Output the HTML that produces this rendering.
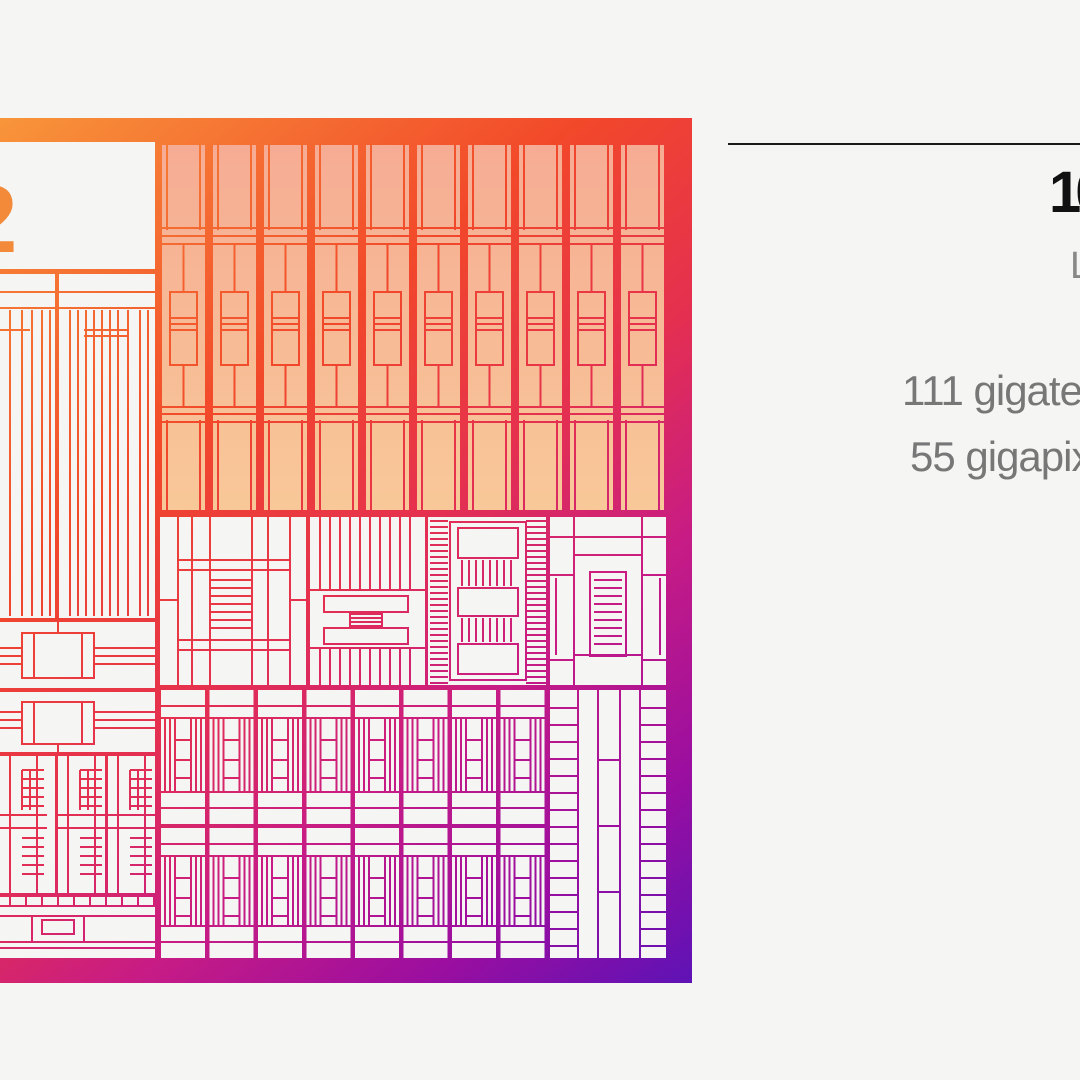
<!DOCTYPE html>
<html><head><meta charset="utf-8">
<style>
html,body{margin:0;padding:0;background:#f5f5f4;width:1080px;height:1080px;overflow:hidden}
svg{position:absolute;left:0;top:0}
.t{font-family:"Liberation Sans",sans-serif}
</style></head>
<body>
<svg id="s" width="1080" height="1080" viewBox="0 0 1080 1080">
<defs>
<linearGradient id="g" gradientUnits="userSpaceOnUse" x1="0" y1="118" x2="692" y2="983">
<stop offset="0" stop-color="#f8953a"/>
<stop offset="0.33" stop-color="#f2482a"/>
<stop offset="0.52" stop-color="#e5304f"/>
<stop offset="0.68" stop-color="#c81c84"/>
<stop offset="0.85" stop-color="#9a0ea0"/>
<stop offset="1" stop-color="#5e12b6"/>
</linearGradient>
<linearGradient id="o" x1="0" y1="0" x2="0" y2="1">
<stop offset="0" stop-color="#f6ac94"/>
<stop offset="1" stop-color="#f8c898"/>
</linearGradient>
</defs>
<rect x="0" y="118" width="692" height="865" fill="url(#g)"/>
<g id="cells"></g>
<g id="lines" stroke="url(#g)" stroke-width="2" fill="none"></g>
<line x1="728" y1="144" x2="1080" y2="144" stroke="#1a1a1a" stroke-width="2"/>
<text class="t" x="1049" y="212" font-size="58" font-weight="bold" fill="#111" letter-spacing="-6">10</text>
<text class="t" x="1070" y="278" font-size="38" fill="#888">L</text>
<text class="t" x="902" y="405" font-size="42" fill="#777" letter-spacing="-1">111 gigateraflops</text>
<text class="t" x="910" y="471" font-size="42" fill="#777" letter-spacing="-1">55 gigapixels</text>
<text class="t" x="-36" y="252" font-size="96" font-weight="bold" fill="#f28a3a">2</text>
</svg>
<script>
const C=document.getElementById('cells'),L=document.getElementById('lines'),NS='http://www.w3.org/2000/svg';
function R(x,y,w,h,f){const e=document.createElementNS(NS,'rect');e.setAttribute('x',x);e.setAttribute('y',y);e.setAttribute('width',w);e.setAttribute('height',h);e.setAttribute('fill',f||'#f5f5f4');C.appendChild(e);}
function H(x1,x2,y){const e=document.createElementNS(NS,'line');e.setAttribute('x1',x1);e.setAttribute('x2',x2);e.setAttribute('y1',y);e.setAttribute('y2',y);L.appendChild(e);}
function V(x,y1,y2){const e=document.createElementNS(NS,'line');e.setAttribute('x1',x);e.setAttribute('x2',x);e.setAttribute('y1',y1);e.setAttribute('y2',y2);L.appendChild(e);}
function B(x,y,w,h){const e=document.createElementNS(NS,'rect');e.setAttribute('x',x);e.setAttribute('y',y);e.setAttribute('width',w);e.setAttribute('height',h);L.appendChild(e);}
R(0,142,155,127);
for(let i=0;i<10;i++){const x=162+i*51,w=43;R(x,145,w,365,'url(#o)');
 V(x+5,145,230);V(x+w-5,145,230);V(x+5,420,510);V(x+w-5,420,510);
 H(x,x+w,228);H(x,x+w,236);H(x,x+w,244);H(x,x+w,407);H(x,x+w,414);H(x,x+w,422);
 V(x+w/2,244,292);V(x+w/2,365,407);B(x+8,292,w-16,73);H(x+8,x+w-8,318);H(x+8,x+w-8,324);H(x+8,x+w-8,330);}
R(0,274,55,344);R(59,274,96,344);
H(0,55,292);H(59,155,292);H(0,55,308);H(59,155,308);
for(const x of[10,22,32,42,50]){V(x,310,616);}for(const x of[70,78,86,94,102,110,118,128,140,148]){V(x,310,616);}
H(0,30,330);H(84,128,330);H(84,128,336);
R(0,622,155,66);B(22,633,72,45);H(0,22,648);H(0,22,656);H(0,22,664);H(94,155,648);H(94,155,656);H(94,155,664);V(34,633,678);V(82,633,678);V(58,622,633);
R(0,692,155,60);B(22,702,72,42);H(0,22,712);H(0,22,720);H(0,22,728);H(94,155,712);H(94,155,720);H(94,155,728);V(34,702,744);V(82,702,744);V(58,744,752);
for(const x of[0,58,108]){R(x,756,x==0?55:47,137);}
for(const x0 of[0,58,108]){V(x0+10,756,893);V(x0+37,756,893);V(x0+22,770,810);V(x0+30,770,810);for(let y=770;y<=815;y+=9)H(x0+22,x0+44,y);for(let y=838;y<=880;y+=9)H(x0+22,x0+44,y);H(x0,x0+47,815);H(x0,x0+47,828);}
R(0,897,155,61);for(let x=10;x<155;x+=16)V(x,897,906);H(0,155,906);H(0,155,916);H(0,155,942);H(0,155,948);B(42,920,32,14);V(32,916,942);V(84,916,942);
R(160,517,146,168);R(310,517,115,168);R(428,517,118,168);R(550,517,116,168);
V(178,517,685);V(192,517,685);V(210,517,685);V(252,517,685);V(268,517,685);V(290,517,685);H(178,290,560);H(178,290,570);H(178,290,640);H(178,290,650);H(160,178,600);H(290,306,600);for(let y=580;y<=632;y+=8)H(210,252,y);
for(let x=320;x<420;x+=10){V(x,517,590);V(x,648,685);}R(312,590,112,58);H(310,425,590);H(310,425,648);B(324,596,84,16);B(324,628,84,16);V(350,612,628);V(382,612,628);for(let y=614;y<=626;y+=4)H(350,382,y);
for(let y=521;y<684;y+=6){H(430,448,y);H(526,546,y);}B(450,522,76,158);B(458,528,60,30);B(458,588,60,28);B(458,644,60,30);for(let x=462;x<516;x+=7){V(x,560,586);V(x,618,642);}
V(574,517,685);V(642,517,685);H(550,668,537);H(574,642,555);H(550,574,575);H(642,668,575);H(574,642,655);H(550,574,660);H(642,668,660);B(590,572,36,84);for(let y=580;y<650;y+=8)H(594,622,y);V(556,578,655);V(660,578,655);
for(let i=0;i<8;i++){const x=161+i*48.5,w=44;for(const[y0,y1] of[[690,824],[828,958]]){R(x,y0,w,y1-y0);
 H(x,x+w,y0+16);H(x,x+w,y0+28);H(x,x+w,y1-32);H(x,x+w,y1-16);
 V(x+4,y0+28,y1-32);V(x+9,y0+28,y1-32);V(x+w-4,y0+28,y1-32);V(x+w-9,y0+28,y1-32);V(x+14,y0+28,y1-32);V(x+w-14,y0+28,y1-32);
 H(x+14,x+w-14,y0+50);H(x+14,x+w-14,y0+70);H(x+14,x+w-14,y0+88);}}
R(550,690,116,268);V(578,690,958);V(598,690,958);V(620,690,958);V(640,690,958);
for(let y=708;y<958;y+=17){H(550,578,y);H(640,668,y);}for(let y=760;y<958;y+=66)H(598,620,y);
</script>
</body></html>
